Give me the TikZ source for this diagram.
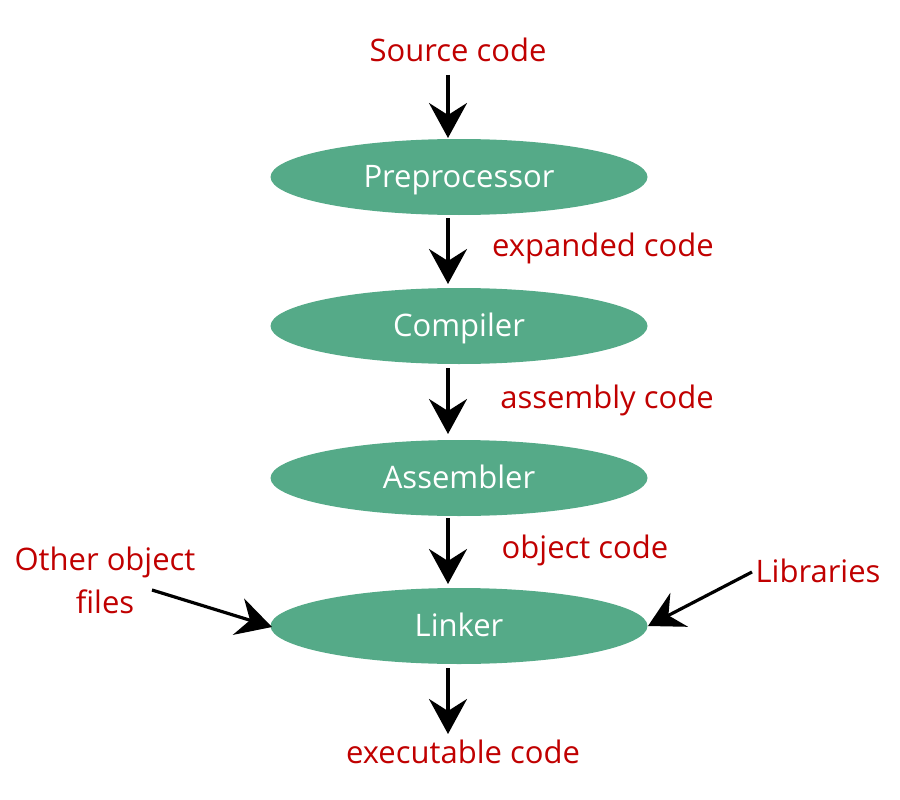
\documentclass[tikz,border=0pt]{standalone}
\usepackage{fontspec}
\setmainfont{Open Sans}
\usetikzlibrary{shapes.geometric,arrows.meta}
\definecolor{lblred}{RGB}{192,0,0}
\definecolor{stagegreen}{RGB}{85,170,136}
\begin{document}
\begin{tikzpicture}[x=1pt,y=-1pt,
  stage/.style={ellipse,fill=stagegreen,draw=none,minimum width=377pt,minimum height=76pt,inner sep=0pt,text=white,text height=22pt,text depth=2pt,font=\fontsize{31}{36}\selectfont},
  lbl/.style={text=lblred,font=\fontsize{31}{43}\selectfont,inner sep=0pt,align=center},
  flow/.style={line width=3.2pt,-{Stealth[length=35pt,width=38pt,inset=12pt]}}]
\useasboundingbox (0,0) rectangle (900,800);
\node[stage] (pre) at (459,177) {Preprocessor};
\node[stage] (comp) at (459,326) {Compiler};
\node[stage] (asm) at (459,478) {Assembler};
\node[stage] (link) at (459,626) {Linker};
\node[lbl] (src) at (458,50) {Source code};
\node[lbl] (exp) at (603,248) {expanded code};
\node[lbl] (asmc) at (607,400) {assembly code};
\node[lbl] (objc) at (585,550) {object code};
\node[lbl] (libs) at (818,571) {Libraries};
\node[lbl] (other) at (105,580) {Other object\\files};
\node[lbl] (exe) at (463,752) {executable code};
\coordinate (s0) at (448,75);
\coordinate (s1) at (448,138);
\coordinate (p0) at (448,218);
\coordinate (p1) at (448,284);
\coordinate (c0) at (448,368);
\coordinate (c1) at (448,434);
\coordinate (a0) at (448,518);
\coordinate (a1) at (448,584);
\coordinate (l0) at (448,668);
\coordinate (l1) at (448,734);
\coordinate (o0) at (152,590);
\coordinate (o1) at (272,627);
\coordinate (b0) at (752,572);
\coordinate (b1) at (648,626);
\draw[flow] (s0) -- (s1);
\draw[flow] (p0) -- (p1);
\draw[flow] (c0) -- (c1);
\draw[flow] (a0) -- (a1);
\draw[flow] (l0) -- (l1);
\draw[flow] (o0) -- (o1);
\draw[flow] (b0) -- (b1);
\end{tikzpicture}
\end{document}
